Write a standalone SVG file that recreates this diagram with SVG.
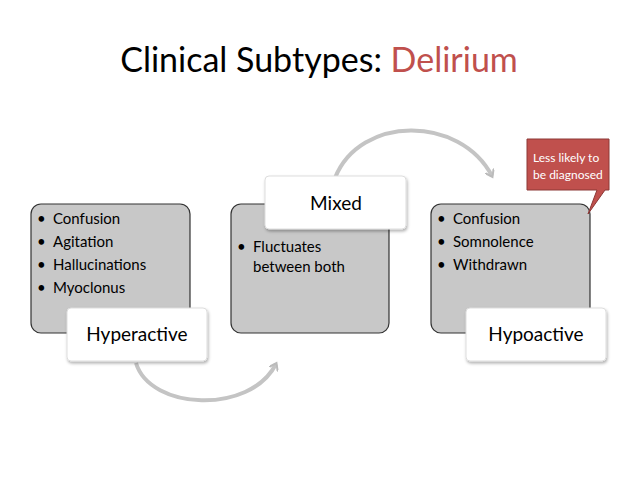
<svg xmlns="http://www.w3.org/2000/svg" width="638" height="478" viewBox="0 0 638 478">
<defs>
<marker id="ah" markerWidth="10" markerHeight="10" refX="6" refY="5" orient="auto" markerUnits="userSpaceOnUse"><path d="M0,0 L7,5 L0,10" fill="none" stroke="#bbb" stroke-width="2"/></marker>
<filter id="sh" x="-10%" y="-10%" width="130%" height="140%"><feDropShadow dx="1" dy="2" stdDeviation="1.5" flood-color="#000" flood-opacity="0.3"/></filter>
</defs>
<style>
text{font-family:Lato,"Open Sans","Liberation Sans",sans-serif;fill:#000}
.box{fill:#c8c8c8;stroke:#333;stroke-width:1.2}
.lbl{fill:#fff;stroke:#ddd;stroke-width:1;filter:url(#sh)}
.b{font-size:15px}
.l{font-size:19px;text-anchor:middle}
.arc{fill:none;stroke:#c4c4c4;stroke-width:4}
</style>
<rect width="638" height="478" fill="#fff"/>
<text x="319" y="72" font-size="34" text-anchor="middle">Clinical Subtypes: <tspan fill="#c0504d" style="fill:#c0504d">Delirium</tspan></text>
<g id="connectors">
<path class="arc" d="M136,363 C150,410 250,415 276,364" marker-end="url(#ah)"/>
<path class="arc" d="M335,178 C360,115 460,115 492,176" marker-end="url(#ah)"/>
</g>
<g id="hyper">
<rect class="box" x="31" y="204" width="159" height="129" rx="10"/>
<text class="b" x="37" y="224">•<tspan x="53">Confusion</tspan></text>
<text class="b" x="37" y="247">•<tspan x="53">Agitation</tspan></text>
<text class="b" x="37" y="270">•<tspan x="53">Hallucinations</tspan></text>
<text class="b" x="37" y="293">•<tspan x="53">Myoclonus</tspan></text>
<rect class="lbl" x="67" y="308" width="140" height="53" rx="4"/>
<text class="l" x="137" y="341">Hyperactive</text>
</g>
<g id="mixed">
<rect class="box" x="231" y="204" width="158" height="129" rx="10"/>
<text class="b" x="237" y="252">•<tspan x="253">Fluctuates</tspan></text>
<text class="b" x="253" y="272">between both</text>
<rect class="lbl" x="265" y="176" width="141" height="53" rx="4"/>
<text class="l" x="336" y="210">Mixed</text>
</g>
<g id="hypo">
<rect class="box" x="431" y="204" width="159" height="129" rx="10"/>
<text class="b" x="437" y="224">•<tspan x="453">Confusion</tspan></text>
<text class="b" x="437" y="247">•<tspan x="453">Somnolence</tspan></text>
<text class="b" x="437" y="270">•<tspan x="453">Withdrawn</tspan></text>
<rect class="lbl" x="466" y="308" width="140" height="53" rx="4"/>
<text class="l" x="536" y="341">Hypoactive</text>
</g>
<g id="callout">
<path d="M527,139 H609 V190 H605 L588,214 L597,190 H527 Z" fill="#c0504d" stroke="#8c3836" stroke-width="1"/>
<text x="533" y="162" font-size="12" style="fill:#fff">Less likely to</text>
<text x="533" y="179" font-size="12" style="fill:#fff">be diagnosed</text>
</g>
</svg>
